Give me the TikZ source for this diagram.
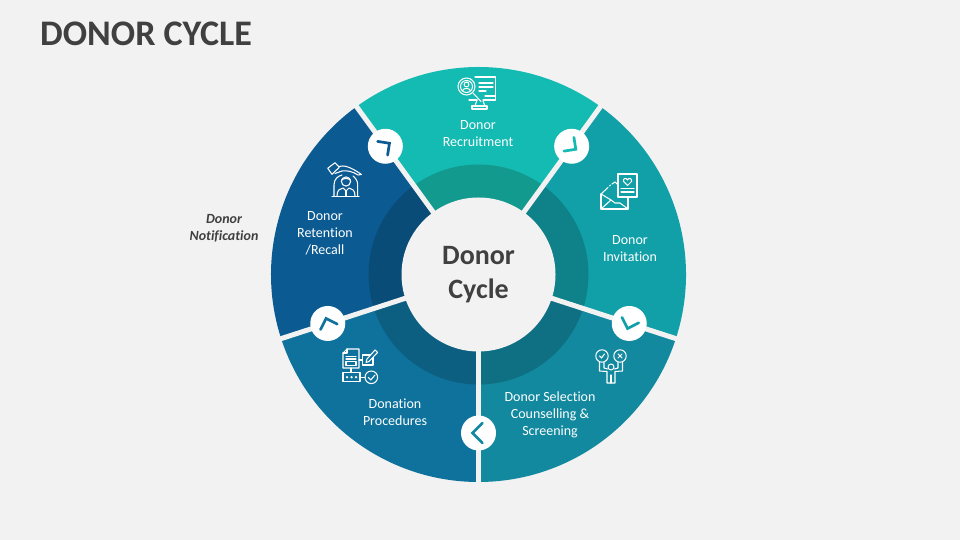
\documentclass[tikz,border=0pt]{standalone}
\usepackage{fontspec}
\setmainfont[Ligatures=NoCommon]{Carlito}
\usepackage{xcolor}
\definecolor{pagebg}{HTML}{F2F2F2}
\definecolor{inktext}{HTML}{404040}
\definecolor{recruitcol}{HTML}{14BBB2}
\definecolor{recruitring}{HTML}{129A8E}
\definecolor{invitecol}{HTML}{11A0A8}
\definecolor{invitering}{HTML}{0F8189}
\definecolor{selectcol}{HTML}{12899F}
\definecolor{selectring}{HTML}{0F6F83}
\definecolor{procedcol}{HTML}{0E729C}
\definecolor{procedring}{HTML}{0C5F81}
\definecolor{retaincol}{HTML}{0C5A92}
\definecolor{retainring}{HTML}{0A4C78}
\tikzset{
  seglabel/.style={align=center,text=white,font=\fontsize{14}{17}\selectfont,inner sep=0pt},
  sidelabel/.style={align=center,text=inktext,font=\fontsize{14}{17}\selectfont\bfseries\itshape,inner sep=0pt},
  hublabel/.style={circle,fill=pagebg,minimum size=154pt,inner sep=0pt,align=center,text=inktext,font=\fontsize{28}{33.5}\selectfont\bfseries},
  btnnode/.style={circle,fill=white,minimum size=35pt,inner sep=0pt},
  icon/.style={draw=white,line width=1.05pt,line join=round,line cap=round}
}
\begin{document}
\begin{tikzpicture}[x=1pt,y=1pt]
\useasboundingbox (0,0) rectangle (960,540);
\fill[pagebg] (0,0) rectangle (960,540);
\node at (40,494) (title) [anchor=base west,inner sep=0pt,text=inktext,font=\fontsize{36}{36}\selectfont\bfseries] {DONOR CYCLE};
% the wheel
\begin{scope}[shift={(478.5,265.5)}]
\foreach \a/\segcol/\ringcol in {54/recruitcol/recruitring,-18/invitecol/invitering,-90/selectcol/selectring,198/procedcol/procedring,126/retaincol/retainring}{
  \fill[\segcol] (0,0) -- (\a:207.5) arc (\a:\a+72:207.5) -- cycle;
  \fill[\ringcol] (0,0) -- (\a:110) arc (\a:\a+72:110) -- cycle;
}
\foreach \a in {270,198,126,54,-18}
  \draw[pagebg,line width=5pt] (0,0) -- (\a:212);
\node at (0,0) (hub) [hublabel] {Donor\\Cycle};
\foreach \a/\segcol/\s in {270/selectcol/10,198/procedcol/8.8,126/retaincol/8.5,54/recruitcol/8.5,-18/invitecol/8.8}{
  \node at (\a:158.5) (btn\a) [btnnode] {};
  \begin{scope}[shift={(\a:158.5)},rotate=\a-90]
    \draw[\segcol,line width=2.7pt,line cap=round,line join=miter] (-0.4*\s,\s) -- (0.6*\s,0) -- (-0.4*\s,-\s);
  \end{scope}
}
\end{scope}
% labels
\node at (478,406) (recruit) [seglabel] {Donor\\Recruitment};
\node at (630,291) (invite) [seglabel] {Donor\\Invitation};
\node at (550,125.5) (select) [seglabel] {Donor Selection\\Counselling \&\\Screening};
\node at (395,128) (proced) [seglabel] {Donation\\Procedures};
\node at (325,307) (retain) [seglabel] {Donor\\Retention\\/Recall};
\node at (224,312) (notify) [sidelabel] {Donor\\Notification};
% recruitment icon
\begin{scope}[shift={(450,468)},yscale=-1]
  \draw[icon] (16.5,14.5) circle (8.5);
  \draw[icon] (16.5,14.5) circle (6);
  \draw[icon] (16.5,12.5) circle (2.4);
  \draw[icon] (12.5,19) .. controls (13,15.5) and (20,15.5) .. (20.5,19);
  \draw[icon] (23,21) -- (31,29.5);
  \draw[icon] (25,5) -- (45.5,5) -- (45.5,28) -- (33,28);
  \draw[icon] (19,28) -- (27,28);
  \draw[icon] (29,11) -- (43,11) (29,15) -- (43,15) (29,19) -- (36,19) (35,24) -- (45,24);
  \draw[icon] (27,28) -- (25,34) (33,29) -- (35,34);
  \draw[icon] (22,34) rectangle (37,37);
\end{scope}
% retention icon
\begin{scope}[shift={(322,382)},yscale=-1]
  \draw[icon] (5.7,10.3) -- (13,4.7) -- (17.3,9.3) -- (10,16.3) -- cycle;
  \draw[icon] (16.5,8.5) .. controls (22,7) and (28,8.5) .. (39.5,16.5) -- (36,17) .. controls (30,13) and (25,12.5) .. (20,13) -- (13,15.5);
  \draw[icon] (12,38) -- (12,27) .. controls (12,21) and (16,18) .. (20,17);
  \draw[icon] (35.7,38) -- (35.7,27) .. controls (35.7,23) and (34,20.5) .. (31,18);
  \draw[icon] (10,38.5) -- (37,38.5);
  \draw[icon] (24,23.5) circle (4.6);
  \draw[icon] (19.5,22) .. controls (22,20) and (26,20) .. (28.5,22);
  \draw[icon] (15,38) .. controls (15,32) and (18,30.5) .. (21,30) -- (24,33) -- (27,30) .. controls (30,30.5) and (33,32) .. (33,38);
  \draw[icon] (24,33) -- (24,38);
\end{scope}
% invitation icon
\begin{scope}[shift={(596,372)},yscale=-1]
  \draw[icon] (5,26) -- (5,41) -- (32,41) -- (32,30);
  \draw[icon] (5,26) -- (12,19.5) (13.5,18) -- (14.5,17) (16,16) -- (19,14) -- (23,18);
  \draw[icon] (5,41) -- (15,32) -- (19,35) -- (24,35) -- (32,41);
  \draw[icon] (5,26) -- (15,32);
  \draw[icon,fill=invitecol] (22,6) rectangle (41,29);
  \draw[icon] (31.5,17.5) -- (27.5,13.5) .. controls (26.5,10) and (30.5,9.5) .. (31.5,12) .. controls (32.5,9.5) and (36.5,10) .. (35.5,13.5) -- cycle;
  \draw[icon] (25,20.5) -- (38,20.5) (25,24) -- (38,24);
\end{scope}
% procedures icon
\begin{scope}[shift={(338,196)},yscale=-1]
  \draw[icon] (9,5) -- (21,5) -- (21,24) -- (5,24) -- (5,9) -- cycle;
  \draw[icon] (5,9) -- (9,9) -- (9,5);
  \draw[icon] (8,12.5) -- (18,12.5) (8,15) -- (18,15);
  \draw[icon] (8,17.5) rectangle (18,21.5);
  \draw[icon] (21,16) -- (24.7,16);
  \draw[icon] (24.7,11) rectangle (35,21);
  \draw[icon,fill=procedcol] (29,15) -- (37,6) -- (39.5,8.5) -- (31,17.5) -- (28,18.5) -- cycle;
  \draw[icon] (13,24) -- (13,28.5);
  \draw[icon] (5,28.5) rectangle (22,37.7);
  \fill[white] (9,33.2) circle (1.3) (13.5,33.2) circle (1.3) (18,33.2) circle (1.3);
  \draw[icon] (22,33.2) -- (27,33.2);
  \draw[icon] (33.3,33.3) circle (6.3);
  \draw[icon] (30.3,33.5) -- (32.8,36) -- (37,31);
\end{scope}
% selection icon
\begin{scope}[shift={(590,196)},yscale=-1]
  \draw[icon] (12,12) circle (6.2);
  \draw[icon] (30,12) circle (6.2);
  \draw[icon] (9.5,12) -- (11.5,14) -- (14.5,10);
  \draw[icon] (28,10) -- (32,14) (32,10) -- (28,14);
  \draw[icon] (21,23) circle (3);
  \draw[icon] (9.5,18.5) -- (9.5,27) -- (17,27.5) -- (17,39) -- (25,39) -- (25,27.5) -- (32.5,27) -- (32.5,18.5);
  \draw[icon] (21,31) -- (21,39);
  \draw[icon] (14,18.5) -- (14,24) -- (17.5,25) (28,18.5) -- (28,24) -- (24.5,25);
\end{scope}
\end{tikzpicture}
\end{document}
